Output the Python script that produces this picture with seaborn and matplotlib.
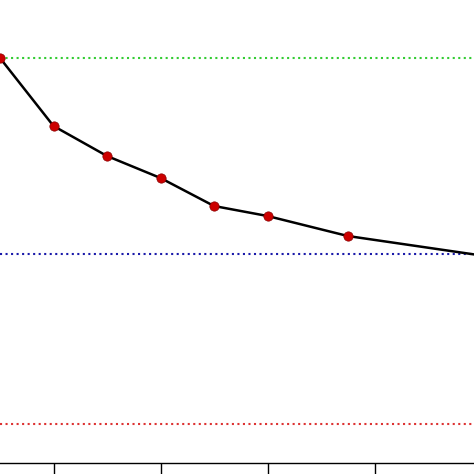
import matplotlib
matplotlib.use('Agg')
import matplotlib.pyplot as plt
import seaborn as sns
import pandas as pd

x_vals = [0, 1, 2, 3, 4, 5, 6.5, 9]
y_vals = [416, 348, 318, 296, 268, 258, 238, 218.5]
ref_lines = [(416, '#33cc33'), (220, '#1a1aaa'), (50, '#dd3333')]
tick_pos = [1, 3, 5, 7]

sns.set_style("white")
fig = plt.figure(figsize=(4.74, 4.74), dpi=100)
ax = fig.add_axes([0, 11 / 474, 1, 463 / 474])

df = pd.DataFrame({"x": x_vals, "y": y_vals})
for yv, col in ref_lines:
    ax.axhline(yv, color=col, linestyle=':', linewidth=1.5)
sns.lineplot(data=df, x="x", y="y", color='black', linewidth=1.8, ax=ax)
ax.scatter(df["x"], df["y"], color='#cc0000', s=45, zorder=5,
           edgecolor='#880000', linewidth=0.5)

ax.set_xlim(0, 474 / 53.5)
ax.set_ylim(11, 474)
ax.set_xticks(tick_pos)
ax.set_xticklabels([])
ax.set_yticks([])
ax.set_xlabel('')
ax.set_ylabel('')
ax.tick_params(axis='x', direction='out', length=8, width=1, color='black', bottom=True)
for s in ['top', 'left', 'right']:
    ax.spines[s].set_visible(False)
ax.spines['bottom'].set_color('black')
ax.spines['bottom'].set_linewidth(1)

fig.savefig("out.png", dpi=100)
